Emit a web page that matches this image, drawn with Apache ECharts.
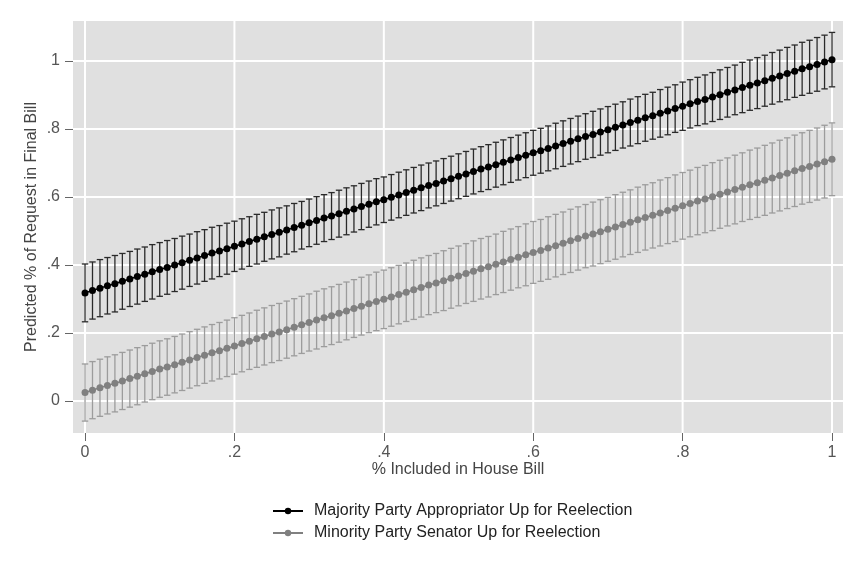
<!DOCTYPE html>
<html>
<head>
<meta charset="utf-8">
<title>Predicted % of Request in Final Bill</title>
<script src="https://cdn.jsdelivr.net/npm/echarts@6.0.0/dist/echarts.min.js"></script>
<style>
  html, body { margin: 0; padding: 0; background: #fff; }
  #chart-container { width: 864px; height: 576px; }
</style>
</head>
<body>
<div id="chart-container"></div>
<script>
// x positions: % included in house bill
const xs = [
  0.00, 0.01, 0.02, 0.03, 0.04, 0.05, 0.06, 0.07, 0.08, 0.09,
  0.10, 0.11, 0.12, 0.13, 0.14, 0.15, 0.16, 0.17, 0.18, 0.19,
  0.20, 0.21, 0.22, 0.23, 0.24, 0.25, 0.26, 0.27, 0.28, 0.29,
  0.30, 0.31, 0.32, 0.33, 0.34, 0.35, 0.36, 0.37, 0.38, 0.39,
  0.40, 0.41, 0.42, 0.43, 0.44, 0.45, 0.46, 0.47, 0.48, 0.49,
  0.50, 0.51, 0.52, 0.53, 0.54, 0.55, 0.56, 0.57, 0.58, 0.59,
  0.60, 0.61, 0.62, 0.63, 0.64, 0.65, 0.66, 0.67, 0.68, 0.69,
  0.70, 0.71, 0.72, 0.73, 0.74, 0.75, 0.76, 0.77, 0.78, 0.79,
  0.80, 0.81, 0.82, 0.83, 0.84, 0.85, 0.86, 0.87, 0.88, 0.89,
  0.90, 0.91, 0.92, 0.93, 0.94, 0.95, 0.96, 0.97, 0.98, 0.99,
  1.00
];

// majority party appropriator: predicted value and CI half-width
const majMean = [
  0.318, 0.325, 0.332, 0.339, 0.345, 0.352, 0.359, 0.366, 0.373, 0.380,
  0.387, 0.393, 0.400, 0.407, 0.414, 0.421, 0.428, 0.435, 0.441, 0.448,
  0.455, 0.462, 0.469, 0.476, 0.483, 0.490, 0.496, 0.503, 0.510, 0.517,
  0.524, 0.531, 0.538, 0.544, 0.551, 0.558, 0.565, 0.572, 0.579, 0.586,
  0.592, 0.599, 0.606, 0.613, 0.620, 0.627, 0.634, 0.640, 0.647, 0.654,
  0.661, 0.668, 0.675, 0.682, 0.688, 0.695, 0.702, 0.709, 0.716, 0.723,
  0.730, 0.736, 0.743, 0.750, 0.757, 0.764, 0.771, 0.778, 0.784, 0.791,
  0.798, 0.805, 0.812, 0.819, 0.826, 0.833, 0.839, 0.846, 0.853, 0.860,
  0.867, 0.874, 0.881, 0.887, 0.894, 0.901, 0.908, 0.915, 0.922, 0.929,
  0.935, 0.942, 0.949, 0.956, 0.963, 0.970, 0.977, 0.983, 0.990, 0.997,
  1.004
];
const majMargin = [
  0.085, 0.084, 0.084, 0.083, 0.083, 0.082, 0.081, 0.081, 0.080, 0.080,
  0.079, 0.079, 0.078, 0.078, 0.077, 0.077, 0.076, 0.076, 0.075, 0.075,
  0.074, 0.074, 0.073, 0.073, 0.072, 0.072, 0.072, 0.071, 0.071, 0.070,
  0.070, 0.070, 0.069, 0.069, 0.069, 0.069, 0.068, 0.068, 0.068, 0.068,
  0.067, 0.067, 0.067, 0.067, 0.067, 0.067, 0.066, 0.066, 0.066, 0.066,
  0.066, 0.066, 0.066, 0.066, 0.066, 0.066, 0.066, 0.066, 0.066, 0.066,
  0.066, 0.066, 0.066, 0.067, 0.067, 0.067, 0.067, 0.067, 0.068, 0.068,
  0.068, 0.068, 0.068, 0.069, 0.069, 0.069, 0.069, 0.070, 0.070, 0.070,
  0.071, 0.071, 0.071, 0.072, 0.072, 0.073, 0.073, 0.073, 0.074, 0.074,
  0.075, 0.075, 0.076, 0.076, 0.077, 0.077, 0.078, 0.078, 0.079, 0.079,
  0.080
];

// minority party senator: predicted value and CI half-width
const minMean = [
  0.025, 0.032, 0.039, 0.046, 0.052, 0.059, 0.066, 0.073, 0.080, 0.087,
  0.094, 0.100, 0.107, 0.114, 0.121, 0.128, 0.135, 0.142, 0.148, 0.155,
  0.162, 0.169, 0.176, 0.183, 0.190, 0.197, 0.203, 0.210, 0.217, 0.224,
  0.231, 0.238, 0.245, 0.251, 0.258, 0.265, 0.272, 0.279, 0.286, 0.293,
  0.299, 0.306, 0.313, 0.320, 0.327, 0.334, 0.341, 0.347, 0.354, 0.361,
  0.368, 0.375, 0.382, 0.389, 0.395, 0.402, 0.409, 0.416, 0.423, 0.430,
  0.437, 0.443, 0.450, 0.457, 0.464, 0.471, 0.478, 0.485, 0.491, 0.498,
  0.505, 0.512, 0.519, 0.526, 0.533, 0.540, 0.546, 0.553, 0.560, 0.567,
  0.574, 0.581, 0.588, 0.594, 0.601, 0.608, 0.615, 0.622, 0.629, 0.636,
  0.642, 0.649, 0.656, 0.663, 0.670, 0.677, 0.684, 0.690, 0.697, 0.704,
  0.711
];
const minMargin = [
  0.084, 0.084, 0.084, 0.084, 0.084, 0.084, 0.084, 0.084, 0.083, 0.083,
  0.083, 0.083, 0.083, 0.083, 0.083, 0.083, 0.083, 0.083, 0.083, 0.083,
  0.083, 0.083, 0.083, 0.084, 0.084, 0.084, 0.084, 0.084, 0.084, 0.084,
  0.084, 0.085, 0.085, 0.085, 0.085, 0.085, 0.085, 0.085, 0.085, 0.086,
  0.086, 0.086, 0.086, 0.086, 0.087, 0.087, 0.087, 0.087, 0.088, 0.088,
  0.088, 0.088, 0.089, 0.089, 0.089, 0.089, 0.090, 0.090, 0.090, 0.091,
  0.091, 0.091, 0.092, 0.092, 0.092, 0.093, 0.093, 0.093, 0.094, 0.094,
  0.094, 0.095, 0.095, 0.095, 0.096, 0.096, 0.096, 0.097, 0.097, 0.098,
  0.098, 0.098, 0.099, 0.099, 0.100, 0.100, 0.100, 0.101, 0.101, 0.102,
  0.102, 0.103, 0.103, 0.104, 0.104, 0.105, 0.105, 0.106, 0.106, 0.107,
  0.107
];

const seriesNames = [
  'Majority Party Appropriator Up for Reelection',
  'Minority Party Senator Up for Reelection'
];

// ticks and their labels (Stata style, no leading zero)
const xTickValues = [0, 0.2, 0.4, 0.6, 0.8, 1];
const xTickLabels = ['0', '.2', '.4', '.6', '.8', '1'];
const yTickValues = [0, 0.2, 0.4, 0.6, 0.8, 1];
const yTickLabels = ['0', '.2', '.4', '.6', '.8', '1'];

const FONT = '"Liberation Sans", Arial, sans-serif';

var dom = document.getElementById('chart-container');
var myChart = echarts.init(dom, null, { renderer: 'canvas' });

function labelFor(values, labels) {
  return function (v) {
    for (let i = 0; i < values.length; i++) {
      if (Math.abs(values[i] - v) < 1e-9) return labels[i];
    }
    return '';
  };
}

// error bar with caps
function errorBarRenderer(color) {
  return function (params, api) {
    const top = api.coord([api.value(0), api.value(2)]);
    const bot = api.coord([api.value(0), api.value(1)]);
    const w = 3.2;
    const style = { stroke: color, lineWidth: 1.3 };
    return {
      type: 'group',
      children: [
        { type: 'line', shape: { x1: top[0], y1: top[1], x2: bot[0], y2: bot[1] }, style: style },
        { type: 'line', shape: { x1: top[0] - w, y1: top[1], x2: top[0] + w, y2: top[1] }, style: style },
        { type: 'line', shape: { x1: bot[0] - w, y1: bot[1], x2: bot[0] + w, y2: bot[1] }, style: style }
      ]
    };
  };
}

const majBars = xs.map((x, i) => [x, majMean[i] - majMargin[i], majMean[i] + majMargin[i]]);
const minBars = xs.map((x, i) => [x, minMean[i] - minMargin[i], minMean[i] + minMargin[i]]);

var option = {
  animation: false,
  textStyle: { fontFamily: FONT },
  grid: {
    left: 73,
    right: 21,
    top: 21,
    bottom: 143,
    show: true,
    backgroundColor: '#e0e0e0',
    borderWidth: 0
  },
  legend: {
    orient: 'vertical',
    left: 267,
    top: 498,
    itemWidth: 30,
    itemHeight: 8,
    itemGap: 6,
    data: seriesNames,
    textStyle: { fontFamily: FONT, fontSize: 16, color: '#222', padding: [0, 0, 0, 6] }
  },
  xAxis: {
    type: 'value',
    min: -0.0161,
    max: 1.0147,
    name: '% Included in House Bill',
    nameLocation: 'middle',
    nameGap: 29,
    nameMoveOverlap: false,
    nameTextStyle: { fontFamily: FONT, fontSize: 16, color: '#444' },
    axisLine: { show: false, onZero: false },
    axisTick: {
      show: true,
      length: 8,
      inside: false,
      customValues: xTickValues,
      lineStyle: { color: '#666', width: 1 }
    },
    axisLabel: {
      show: true,
      margin: 12,
      fontFamily: FONT,
      fontSize: 16,
      color: '#555',
      customValues: xTickValues,
      formatter: labelFor(xTickValues, xTickLabels)
    },
    splitLine: { show: false }
  },
  yAxis: {
    type: 'value',
    min: -0.094,
    max: 1.1176,
    name: 'Predicted % of Request in Final Bill',
    nameLocation: 'middle',
    nameGap: 33,
    nameMoveOverlap: false,
    nameTextStyle: { fontFamily: FONT, fontSize: 16, color: '#444' },
    axisLine: { show: false, onZero: false },
    axisTick: {
      show: true,
      length: 8,
      inside: false,
      customValues: yTickValues,
      lineStyle: { color: '#666', width: 1 }
    },
    axisLabel: {
      show: true,
      margin: 13,
      fontFamily: FONT,
      fontSize: 16,
      color: '#555',
      customValues: yTickValues,
      formatter: labelFor(yTickValues, yTickLabels)
    },
    splitLine: { show: false }
  },
  series: [
    {
      // vertical grid lines
      type: 'custom',
      silent: true,
      z: 0,
      clip: false,
      data: xTickValues.map(v => [v, 0]),
      renderItem: function (params, api) {
        const cs = params.coordSys;
        const x = api.coord([api.value(0), 0])[0];
        return {
          type: 'line',
          shape: { x1: x, y1: cs.y, x2: x, y2: cs.y + cs.height },
          style: { stroke: '#ffffff', lineWidth: 2 }
        };
      }
    },
    {
      // horizontal grid lines
      type: 'custom',
      silent: true,
      z: 0,
      clip: false,
      data: yTickValues.map(v => [0, v]),
      renderItem: function (params, api) {
        const cs = params.coordSys;
        const y = api.coord([0, api.value(1)])[1];
        return {
          type: 'line',
          shape: { x1: cs.x, y1: y, x2: cs.x + cs.width, y2: y },
          style: { stroke: '#ffffff', lineWidth: 2 }
        };
      }
    },
    {
      type: 'custom',
      silent: true,
      z: 1,
      clip: false,
      data: majBars,
      renderItem: errorBarRenderer('#2a2a2a')
    },
    {
      type: 'custom',
      silent: true,
      z: 1,
      clip: false,
      data: minBars,
      renderItem: errorBarRenderer('#9c9c9c')
    },
    {
      name: seriesNames[0],
      type: 'line',
      z: 3,
      clip: false,
      data: xs.map((x, i) => [x, majMean[i]]),
      symbol: 'circle',
      symbolSize: 7,
      showSymbol: true,
      showAllSymbol: true,
      lineStyle: { color: '#000', width: 1.5 },
      itemStyle: { color: '#000' }
    },
    {
      name: seriesNames[1],
      type: 'line',
      z: 3,
      clip: false,
      data: xs.map((x, i) => [x, minMean[i]]),
      symbol: 'circle',
      symbolSize: 7,
      showSymbol: true,
      showAllSymbol: true,
      lineStyle: { color: '#808080', width: 1.5 },
      itemStyle: { color: '#808080' }
    }
  ]
};

if (option && typeof option === 'object') {
  myChart.setOption(option);
}

window.addEventListener('resize', myChart.resize);
</script>
</body>
</html>
